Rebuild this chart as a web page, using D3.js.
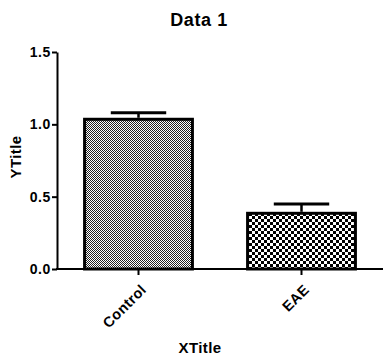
<!DOCTYPE html>
<html><head><meta charset="utf-8">
<script src="https://cdn.jsdelivr.net/npm/d3@7"></script>
<style>body{margin:0;background:#fff;} text{font-family:"Liberation Sans",Arial,sans-serif;font-weight:bold;}</style>
</head><body>
<script>
const categories = ["Control", "EAE"];
const means = [1.035, 0.385];
const errors = [0.045, 0.065];
const yTicks = [0.0, 0.5, 1.0, 1.5];
const title = "Data 1", xTitle = "XTitle", yTitle = "YTitle";

const W = 386, H = 360;
const svg = d3.select("body").append("svg").attr("width", W).attr("height", H);
const defs = svg.append("defs");
const p1 = defs.append("pattern").attr("id","fine").attr("patternUnits","userSpaceOnUse").attr("width",2).attr("height",2);
p1.append("rect").attr("width",2).attr("height",2).attr("fill","#fff");
p1.append("rect").attr("width",1).attr("height",1).attr("fill","#222");
p1.append("rect").attr("x",1).attr("y",1).attr("width",1).attr("height",1).attr("fill","#222");
const p2 = defs.append("pattern").attr("id","coarse").attr("patternUnits","userSpaceOnUse").attr("width",6).attr("height",6);
p2.append("rect").attr("width",6).attr("height",6).attr("fill","#fff");
p2.append("rect").attr("width",3).attr("height",3).attr("fill","#000");
p2.append("rect").attr("x",3).attr("y",3).attr("width",3).attr("height",3).attr("fill","#000");
const fills = ["url(#fine)", "url(#coarse)"];

const x = d3.scaleBand().domain(categories).range([57, 383]).paddingInner(0.32).paddingOuter(0.16);
const y = d3.scaleLinear().domain([0, 1.5]).range([269, 52]);

// bars
svg.selectAll("rect.bar").data(categories).enter().append("rect")
  .attr("class","bar")
  .attr("x", d => x(d) + 1.5)
  .attr("y", (d,i) => y(means[i]))
  .attr("width", x.bandwidth() - 3)
  .attr("height", (d,i) => y(0) - y(means[i]))
  .attr("fill", (d,i) => fills[i])
  .attr("stroke", "#000").attr("stroke-width", 3);

// error bars
const eb = svg.selectAll("g.err").data(categories).enter().append("g").attr("class","err");
eb.append("line")
  .attr("x1", d => x(d) + x.bandwidth()/2).attr("x2", d => x(d) + x.bandwidth()/2)
  .attr("y1", (d,i) => y(means[i]) - 1.5).attr("y2", (d,i) => y(means[i] + errors[i]))
  .attr("stroke","#000").attr("stroke-width",2.5);
eb.append("line")
  .attr("x1", d => x(d) + x.bandwidth()/4).attr("x2", d => x(d) + 3*x.bandwidth()/4)
  .attr("y1", (d,i) => y(means[i] + errors[i])).attr("y2", (d,i) => y(means[i] + errors[i]))
  .attr("stroke","#000").attr("stroke-width",3);

// y axis
const yAxis = d3.axisLeft(y).tickValues(yTicks).tickFormat(d3.format(".1f")).tickSize(5).tickSizeOuter(0);
const ga = svg.append("g").attr("transform","translate(57,0)").call(yAxis);
ga.select(".domain").attr("stroke-width",2);
ga.selectAll(".tick line").attr("stroke-width",2);
ga.selectAll(".tick text").attr("font-size",14).attr("font-weight","bold").attr("fill","#000").attr("x",-6)
  .attr("letter-spacing","0.6px").attr("font-family",null);

// x axis
const xAxis = d3.axisBottom(x).tickSize(6).tickSizeOuter(0).tickFormat("");
const gx = svg.append("g").attr("transform","translate(0,269)").call(xAxis);
gx.select(".domain").attr("stroke-width",2).attr("d","M56,0H383");
gx.selectAll(".tick line").attr("stroke-width",2);

// category labels
svg.selectAll("text.cat").data(categories).enter().append("text")
  .attr("class","cat")
  .attr("transform", d => `translate(${x(d) + x.bandwidth()/2 + 5},${287}) rotate(-45)`)
  .attr("text-anchor","end").attr("font-size",14.5).attr("dy","0.35em").attr("letter-spacing","0.4px")
  .text(d => d);

// titles
svg.append("text").attr("x",199).attr("y",26).attr("text-anchor","middle").attr("font-size",18).attr("letter-spacing","0.6px").text(title);
svg.append("text").attr("x",200).attr("y",353).attr("text-anchor","middle").attr("font-size",15).attr("letter-spacing","0.4px").text(xTitle);
svg.append("text").attr("transform","translate(21,157) rotate(-90)").attr("text-anchor","middle").attr("font-size",15).attr("letter-spacing","0.4px").text(yTitle);
</script>
</body></html>
